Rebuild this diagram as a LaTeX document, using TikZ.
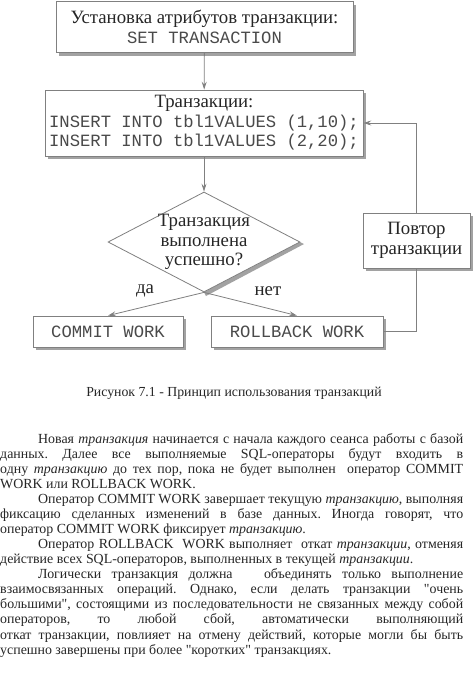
\documentclass[tikz,border=0pt]{standalone}
\usepackage{fontspec}
\setmainfont{Liberation Serif}
\setmonofont{Liberation Mono}
\newfontfamily\pagefont{Liberation Serif}
\usepackage{xcolor}
\usetikzlibrary{arrows.meta}
\usetikzlibrary{shapes.geometric}
\usetikzlibrary{shadows}
\definecolor{linecolor}{HTML}{808080}
\definecolor{shadecolor}{HTML}{A2A2A2}
\definecolor{inkcolor}{HTML}{262626}
\definecolor{codecolor}{HTML}{4A4A4A}
\newcommand{\codefont}{\ttfamily\fontsize{17.2}{19.5}\selectfont\color{codecolor}}

\begin{document}
\begin{tikzpicture}[x=1pt,y=-1pt,
  blk/.style={draw=linecolor,line width=0.8pt,fill=white,inner sep=0pt,align=center,
    text=inkcolor,font=\rmfamily\fontsize{18.8}{19.5}\selectfont,
    drop shadow={shadow xshift=3pt,shadow yshift=-3pt,fill=shadecolor,opacity=1}},
  dec/.style={diamond,draw=linecolor,line width=0.8pt,fill=white,inner sep=0pt,
    minimum width=192pt,minimum height=100pt},
  txt/.style={inner sep=0pt,align=center,text=inkcolor,font=\rmfamily\fontsize{18.8}{19.5}\selectfont},
  edge/.style={draw=linecolor,line width=0.8pt,-{Stealth[length=8pt,width=5pt,inset=3pt]}},
  link/.style={draw=linecolor,line width=0.8pt}]
\useasboundingbox[fill=white] (0,0) rectangle (474,675);

\node[blk,minimum width=297pt,minimum height=51pt] (setup) at (204.5,27) {Установка атрибутов транзакции:\\{\codefont SET TRANSACTION}};
\node[blk,minimum width=318pt,minimum height=66pt] (insert) at (204,123) {Транзакции:\\{\codefont INSERT INTO tbl1VALUES (1,10);}\\{\codefont INSERT INTO tbl1VALUES (2,20);}};

\fill[shadecolor] (300,242) -- (204,292) -- (206,296) -- (304,244) -- cycle;
\node[dec] (check) at (204,242) {};
\node[txt] (checktext) at (check) {Транзакция\\выполнена\\успешно?};

\node[blk,minimum width=150pt,minimum height=31pt] (commit) at (108,331.5) {\codefont COMMIT WORK};
\node[blk,minimum width=172pt,minimum height=31pt] (rollback) at (297,331.5) {\codefont ROLLBACK WORK};
\node[blk,minimum width=107pt,minimum height=55pt] (retry) at (416.5,240.5) {Повтор\\транзакции};

\node[txt] (yes) at (145,291) {да};
\node[txt] (no) at (268,291) {нет};

\draw[edge] (setup) -- (insert);
\draw[edge] (insert) -- (check);
\draw[edge] (check.south) -- (commit.north);
\draw[edge] (check.south) -- (rollback.north);
\draw[link] (rollback.east) -| (retry.south);
\draw[edge] (retry.north) |- (insert.east);

\node[txt,font=\rmfamily\fontsize{13.8}{15}\selectfont] (caption) at (234,393) {Рисунок 7.1 - Принцип использования транзакций};

\node[inner sep=0pt,anchor=north west,text=inkcolor] (body) at (0,433) {\begin{minipage}{463pt}
\pagefont\fontsize{13.9}{15.07}\selectfont\setlength{\parindent}{38pt}\hyphenpenalty=10000\tolerance=10000\frenchspacing
Новая \textit{транзакция} начинается с начала каждого сеанса работы с базой\linebreak
данных. Далее все выполняемые SQL-операторы будут входить в\linebreak
одну \textit{транзакцию} до тех пор, пока не будет выполнен\ \ оператор COMMIT\linebreak
WORK или ROLLBACK WORK.\par
Оператор COMMIT WORK завершает текущую \textit{транзакцию}, выполняя\linebreak
фиксацию сделанных изменений в базе данных. Иногда говорят, что\linebreak
оператор COMMIT WORK фиксирует \textit{транзакцию}.\par
Оператор ROLLBACK\ \ WORK выполняет\ \ откат \textit{транзакции}, отменяя\linebreak
действие всех SQL-операторов, выполненных в текущей \textit{транзакции}.\par
Логически транзакция должна\ \ \ объединять только выполнение\linebreak
взаимосвязанных операций. Однако, если делать транзакции "очень\linebreak
большими", состоящими из последовательности не связанных между собой\linebreak
операторов, то любой сбой, автоматически выполняющий\linebreak
откат транзакции, повлияет на отмену действий, которые могли бы быть\linebreak
успешно завершены при более "коротких" транзакциях.
\end{minipage}};
\end{tikzpicture}
\end{document}
